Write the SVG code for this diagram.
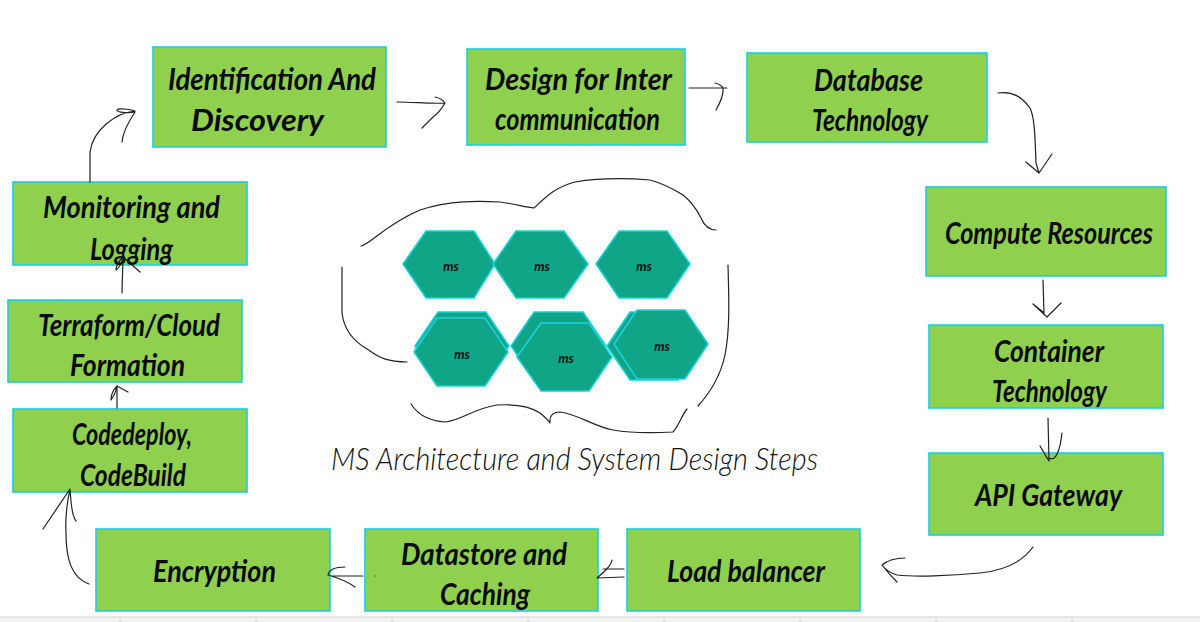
<svg xmlns="http://www.w3.org/2000/svg" width="1200" height="622" viewBox="0 0 1200 622">
<style>
.box{fill:#8fd14f;stroke:#14cfe6;stroke-width:1.6}
.hex{fill:#0fa586;stroke:#1ad2dc;stroke-width:1.6}
.t{font-family:"Lato","Noto Sans",sans-serif;font-style:italic;font-weight:700;font-size:31px;fill:#0b0b0b}
.ms{font-family:"Lato","Noto Sans",sans-serif;font-style:italic;font-weight:700;font-size:13px;fill:#0b0b0b;text-anchor:middle}
.title{font-family:"Lato","Noto Sans",sans-serif;font-style:italic;font-weight:300;font-size:31px;fill:#111}
.c{fill:none;stroke:#222;stroke-width:1.2;stroke-linecap:round;stroke-linejoin:round}
.grid{fill:none;stroke:#d4d4d4;stroke-width:1}
</style>
<rect width="1200" height="622" fill="#fff"/>
<g id="sheet-edge">
<rect x="0" y="617" width="1200" height="5" fill="#f3f3f3"/>
<path class="grid" d="M0 617H1200M120 617V622M256 617V622M392 617V622M528 617V622M664 617V622M800 617V622M936 617V622M1072 617V622"/>
</g>
<g id="node-identification"><rect class="box" x="153" y="47" width="233" height="100"/>
<text class="t" x="168" y="90" textLength="208" lengthAdjust="spacingAndGlyphs">Identification And</text>
<text class="t" x="191" y="131" textLength="133" lengthAdjust="spacingAndGlyphs">Discovery</text></g>
<g id="node-design"><rect class="box" x="467" y="49" width="218" height="96"/>
<text class="t" x="485" y="90" textLength="187" lengthAdjust="spacingAndGlyphs">Design for Inter</text>
<text class="t" x="495" y="130" textLength="165" lengthAdjust="spacingAndGlyphs">communication</text></g>
<g id="node-database"><rect class="box" x="747" y="53" width="240" height="89"/>
<text class="t" x="814" y="91" textLength="109" lengthAdjust="spacingAndGlyphs">Database</text>
<text class="t" x="812" y="131" textLength="116" lengthAdjust="spacingAndGlyphs">Technology</text></g>
<g id="node-compute"><rect class="box" x="926" y="187" width="240" height="89"/>
<text class="t" x="945" y="244" textLength="208" lengthAdjust="spacingAndGlyphs">Compute Resources</text></g>
<g id="node-container"><rect class="box" x="929" y="325" width="234" height="83"/>
<text class="t" x="994" y="362" textLength="110" lengthAdjust="spacingAndGlyphs">Container</text>
<text class="t" x="992" y="402" textLength="115" lengthAdjust="spacingAndGlyphs">Technology</text></g>
<g id="node-api"><rect class="box" x="929" y="453" width="234" height="82"/>
<text class="t" x="975" y="506" textLength="147" lengthAdjust="spacingAndGlyphs">API Gateway</text></g>
<g id="node-load"><rect class="box" x="627" y="529" width="233" height="82"/>
<text class="t" x="667" y="582" textLength="158" lengthAdjust="spacingAndGlyphs">Load balancer</text></g>
<g id="node-datastore"><rect class="box" x="365" y="529" width="233" height="82"/>
<text class="t" x="401" y="565" textLength="166" lengthAdjust="spacingAndGlyphs">Datastore and</text>
<text class="t" x="440" y="605" textLength="90" lengthAdjust="spacingAndGlyphs">Caching</text>
<rect x="374.5" y="575.5" width="1" height="1" fill="#333"/></g>
<g id="node-encryption"><rect class="box" x="96" y="529" width="234" height="82"/>
<text class="t" x="153" y="582" textLength="123" lengthAdjust="spacingAndGlyphs">Encryption</text></g>
<g id="node-codedeploy"><rect class="box" x="13" y="409" width="234" height="83"/>
<text class="t" x="72" y="445" textLength="120" lengthAdjust="spacingAndGlyphs">Codedeploy,</text>
<text class="t" x="80" y="486" textLength="106" lengthAdjust="spacingAndGlyphs">CodeBuild</text></g>
<g id="node-terraform"><rect class="box" x="8" y="300" width="234" height="82"/>
<text class="t" x="38" y="336" textLength="182" lengthAdjust="spacingAndGlyphs">Terraform/Cloud</text>
<text class="t" x="70" y="376" textLength="115" lengthAdjust="spacingAndGlyphs">Formation</text></g>
<g id="node-monitoring"><rect class="box" x="13" y="182" width="234" height="83"/>
<text class="t" x="43" y="218" textLength="177" lengthAdjust="spacingAndGlyphs">Monitoring and</text>
<text class="t" x="90" y="260" textLength="83" lengthAdjust="spacingAndGlyphs">Logging</text></g>
<g id="ms-1"><polygon class="hex" points="403,264 426,231 474,231 495,264 474,298 426,298"/><text class="ms" x="451" y="271">ms</text></g>
<g id="ms-2"><polygon class="hex" points="493,264 516,231 564,231 588,264 564,298 516,298"/><text class="ms" x="542" y="271">ms</text></g>
<g id="ms-3"><polygon class="hex" points="596,264 619,231 667,231 690,264 667,298 619,298"/><text class="ms" x="644" y="271">ms</text></g>
<g id="ms-4"><polygon class="hex" points="415,346 438,312 486,312 509,346 486,380 438,380"/><polygon class="hex" points="414,352 437,318 485,318 508,352 485,386 437,386"/><text class="ms" x="462" y="359">ms</text></g>
<g id="ms-5"><polygon class="hex" points="511,346 534,312 583,312 606,346 583,380 534,380"/><polygon class="hex" points="517,357 541,323 589,323 612,357 589,391 541,391"/><text class="ms" x="566" y="363">ms</text></g>
<g id="ms-6"><polygon class="hex" points="607,346 630,312 678,312 702,346 678,380 630,380"/><polygon class="hex" points="614,344 637,310 685,310 708,344 685,379 637,379"/><text class="ms" x="662" y="351">ms</text></g>
<g id="cloud">
<path class="c" d="M361 246C372 243 385 225 420 210C450 200 480 201 500 202C515 204 525 207 534 208C545 198 555 187 575 182C600 178 625 178 650 180C665 184 675 190 683 195C692 202 697 210 701 218C704 225 708 230 716 230"/>
<path class="c" d="M342 267V313C344 330 355 342 367 349C378 356 384 362 407 362"/>
<path class="c" d="M728 265C729 300 730 330 725 355C720 378 708 395 698 406"/>
<path class="c" d="M411 404C418 415 430 421 445 422C460 421 475 408 497 405C515 404 530 406 540 413C546 418 549 421 550 423C549 416 553 412 560 412C575 413 595 427 613 430C630 433 655 433 673 432C679 425 682 415 687 409"/>
</g>
<g id="connectors">
<path class="c" d="M397 102C415 102 430 104 445 103M435 97C440 98 443 100 445 103C440 112 432 118 432 118C428 122 424 126 422 128"/>
<path class="c" d="M689 88H727M715 83C719 84 722 86 723 88C724 95 720 103 716 110"/>
<path class="c" d="M998 93C1013 91 1022 97 1030 108C1035 118 1035 140 1036 163L1039 173M1026 162L1039 173L1052 154"/>
<path class="c" d="M1043 280L1044 313M1033 304L1047 317L1061 303M1033 304L1043 312"/>
<path class="c" d="M1048 418L1049 461L1040 446L1047 458M1049 458C1056 462 1060 450 1062 433"/>
<path class="c" d="M1033 547C1020 565 1000 571 980 573C950 576 915 577 897 575C890 573 885 569 882 565C888 560 897 558 905 558M882 565C888 573 892 577 897 582"/>
<path class="c" d="M624 569H603M624 577L597 578C604 572 611 566 612 560"/>
<path class="c" d="M363 576H332M345 567C335 567 329 570 328 575C335 577 347 581 355 587"/>
<path class="c" d="M89 584C72 578 66 560 66 533C65 515 68 498 70 489L43 529L68 492M70 489C71 500 71 515 76 521"/>
<path class="c" d="M117 408V386L128 392M117 386C113 390 111 395 111 400C114 396 116 391 117 386"/>
<path class="c" d="M122 293L123 257L140 272M123 257C119 261 116 266 116 270C119 268 122 262 123 257"/>
<path class="c" d="M90 182V152C93 130 115 113 135 111C130 109 118 108 117 110C117 113 130 113 135 112C131 118 123 130 122 142"/>
</g>
<text class="title" x="331" y="470" textLength="487" lengthAdjust="spacingAndGlyphs">MS Architecture and System Design Steps</text>
</svg>
